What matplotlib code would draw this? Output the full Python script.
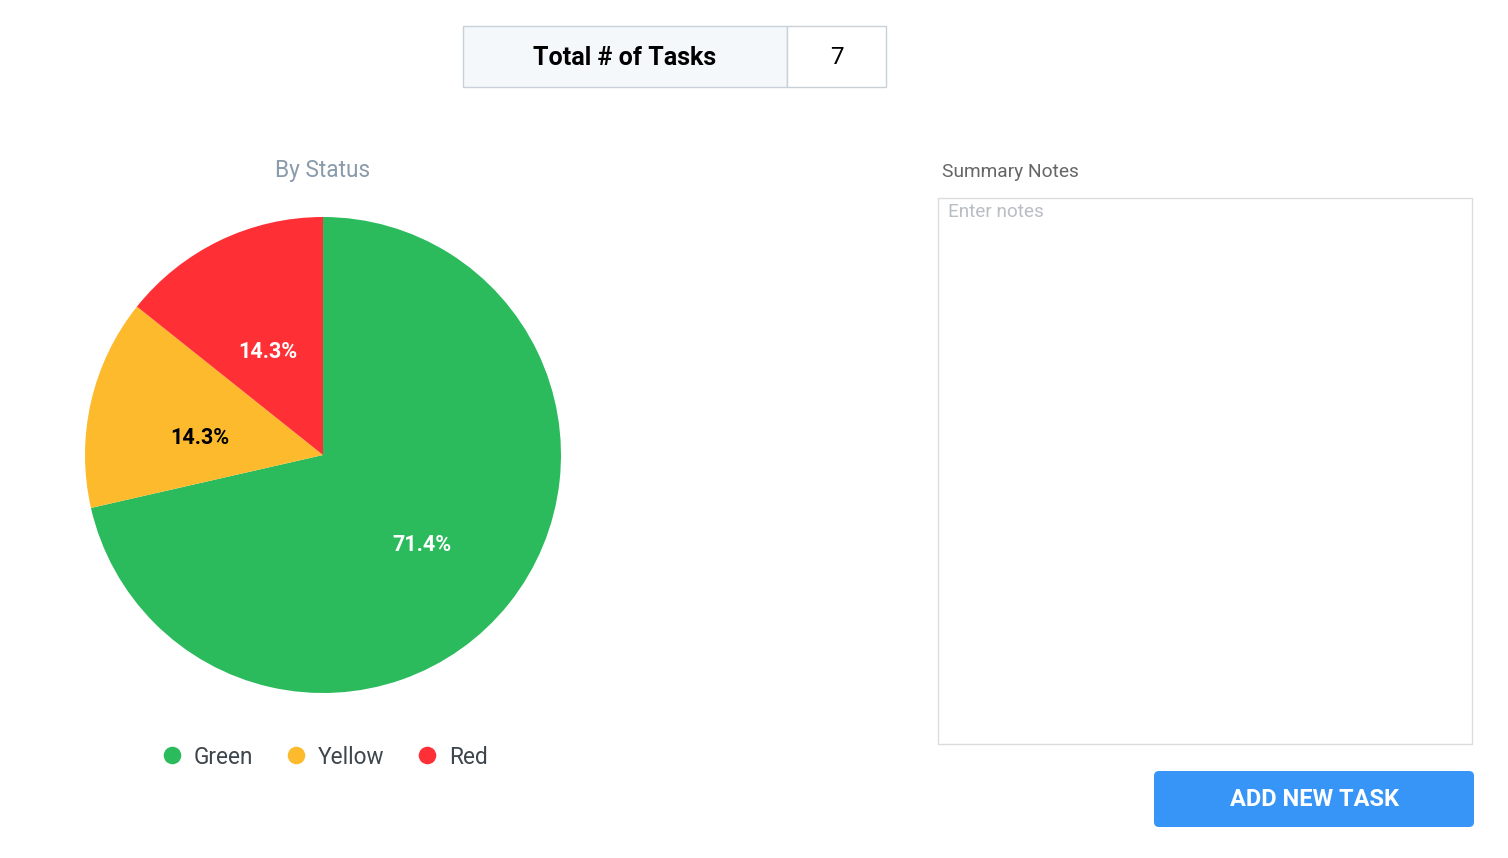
import matplotlib.pyplot as plt
from matplotlib.patches import Rectangle, FancyBboxPatch

plt.rcParams['font.family'] = ['Roboto', 'DejaVu Sans']

# data
statuses = ['Green', 'Yellow', 'Red']
task_counts = [5, 1, 1]
status_colors = ['#2bba5c', '#fdba2c', '#fe3036']
label_colors = ['white', 'black', 'white']
total_tasks = sum(task_counts)

W, H = 1508, 858
fig = plt.figure(figsize=(W / 100, H / 100), dpi=100)
fig.patch.set_facecolor('white')

# full-figure axes in pixel coords for the page furniture
bg = fig.add_axes([0, 0, 1, 1])
bg.set_xlim(0, W)
bg.set_ylim(H, 0)
bg.axis('off')

# total tasks box
bg.add_patch(Rectangle((463, 26), 324, 61, facecolor='#f5f8fb', edgecolor='#c8d0d8', lw=1))
bg.add_patch(Rectangle((787, 26), 99, 61, facecolor='white', edgecolor='#c8d0d8', lw=1))
bg.text(625, 58, 'Total # of Tasks', ha='center', va='center', fontsize=18, fontweight='bold', color='black')
bg.text(837, 58, str(total_tasks), ha='center', va='center', fontsize=17.5, color='black')

# pie title
bg.text(323, 170, 'By Status', ha='center', va='center', fontsize=16.3, color='#8a9bab')

# legend row
leg_x = [172, 296, 427]
for x, name, col in zip(leg_x, statuses, status_colors):
    bg.scatter([x], [755], s=135, color=col, zorder=3)
    bg.text(x + 22, 757, name, ha='left', va='center', fontsize=16.3, color='#3d464d')

# summary notes panel
bg.text(942, 172, 'Summary Notes', ha='left', va='center', fontsize=13.8, color='#666666')
bg.add_patch(Rectangle((938, 198), 534, 546, facecolor='white', edgecolor='#dcdcdc', lw=1))
bg.text(948, 212, 'Enter notes', ha='left', va='center', fontsize=13.7, color='#b8bec4')

# button
bg.add_patch(FancyBboxPatch((1154, 771), 320, 56, boxstyle='round,pad=0,rounding_size=5',
                            facecolor='#3795f7', edgecolor='none'))
bg.text(1314, 800, 'ADD NEW TASK', ha='center', va='center', fontsize=17, fontweight='bold', color='white')

# pie chart
cx, cy, r = 323, 455, 238
pie_ax = fig.add_axes([(cx - r) / W, (H - cy - r) / H, 2 * r / W, 2 * r / H])
wedges, texts, autotexts = pie_ax.pie(task_counts, colors=status_colors, startangle=90, counterclock=False,
                                      autopct='%1.1f%%', pctdistance=0.53,
                                      wedgeprops={'linewidth': 0})
for t, c in zip(autotexts, label_colors):
    t.set_color(c)
    t.set_fontsize(15.5)
    t.set_fontweight('bold')
    t.set_va('top')  # labels sit a bit below the pct point in the reference
pie_ax.set_xlim(-1, 1)
pie_ax.set_ylim(-1, 1)
pie_ax.set_aspect('equal')

plt.savefig('out.png', dpi=100)
